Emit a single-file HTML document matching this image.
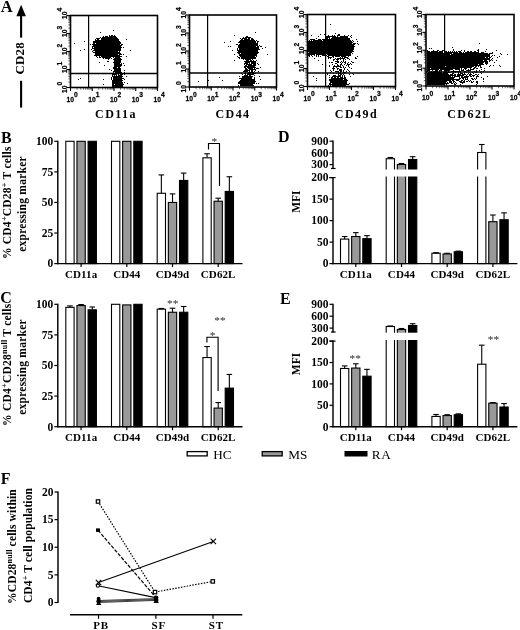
<!DOCTYPE html>
<html><head><meta charset="utf-8"><title>Figure</title>
<style>
html,body{margin:0;padding:0;background:#fff}
svg{display:block}
.sb{font-family:"Liberation Serif","Times New Roman",serif;font-weight:bold}
.sr{font-family:"Liberation Serif","Times New Roman",serif;font-weight:normal}
.ss{font-family:"Liberation Sans",Arial,sans-serif;font-weight:bold}
</style></head><body>
<svg width="520" height="630" viewBox="0 0 520 630">
<rect width="520" height="630" fill="#fff"/>
<rect x="70.5" y="15.5" width="87.0" height="72.0" fill="none" stroke="#000" stroke-width="1.6"/>
<line x1="88.6" y1="15.5" x2="88.6" y2="87.5" stroke="#000" stroke-width="1.2" />
<line x1="70.5" y1="73.5" x2="157.5" y2="73.5" stroke="#000" stroke-width="1.5" />
<line x1="77.05" y1="87.5" x2="77.05" y2="89.7" stroke="#000" stroke-width="0.6" />
<line x1="68.3" y1="82.08" x2="70.5" y2="82.08" stroke="#000" stroke-width="0.6" />
<line x1="80.88" y1="87.5" x2="80.88" y2="89.7" stroke="#000" stroke-width="0.6" />
<line x1="68.3" y1="78.91" x2="70.5" y2="78.91" stroke="#000" stroke-width="0.6" />
<line x1="83.59" y1="87.5" x2="83.59" y2="89.7" stroke="#000" stroke-width="0.6" />
<line x1="68.3" y1="76.66" x2="70.5" y2="76.66" stroke="#000" stroke-width="0.6" />
<line x1="85.70" y1="87.5" x2="85.70" y2="89.7" stroke="#000" stroke-width="0.6" />
<line x1="68.3" y1="74.92" x2="70.5" y2="74.92" stroke="#000" stroke-width="0.6" />
<line x1="87.42" y1="87.5" x2="87.42" y2="89.7" stroke="#000" stroke-width="0.6" />
<line x1="68.3" y1="73.49" x2="70.5" y2="73.49" stroke="#000" stroke-width="0.6" />
<line x1="88.88" y1="87.5" x2="88.88" y2="89.7" stroke="#000" stroke-width="0.6" />
<line x1="68.3" y1="72.29" x2="70.5" y2="72.29" stroke="#000" stroke-width="0.6" />
<line x1="90.14" y1="87.5" x2="90.14" y2="89.7" stroke="#000" stroke-width="0.6" />
<line x1="68.3" y1="71.24" x2="70.5" y2="71.24" stroke="#000" stroke-width="0.6" />
<line x1="91.25" y1="87.5" x2="91.25" y2="89.7" stroke="#000" stroke-width="0.6" />
<line x1="68.3" y1="70.32" x2="70.5" y2="70.32" stroke="#000" stroke-width="0.6" />
<line x1="98.80" y1="87.5" x2="98.80" y2="89.7" stroke="#000" stroke-width="0.6" />
<line x1="68.3" y1="64.08" x2="70.5" y2="64.08" stroke="#000" stroke-width="0.6" />
<line x1="102.63" y1="87.5" x2="102.63" y2="89.7" stroke="#000" stroke-width="0.6" />
<line x1="68.3" y1="60.91" x2="70.5" y2="60.91" stroke="#000" stroke-width="0.6" />
<line x1="105.34" y1="87.5" x2="105.34" y2="89.7" stroke="#000" stroke-width="0.6" />
<line x1="68.3" y1="58.66" x2="70.5" y2="58.66" stroke="#000" stroke-width="0.6" />
<line x1="107.45" y1="87.5" x2="107.45" y2="89.7" stroke="#000" stroke-width="0.6" />
<line x1="68.3" y1="56.92" x2="70.5" y2="56.92" stroke="#000" stroke-width="0.6" />
<line x1="109.17" y1="87.5" x2="109.17" y2="89.7" stroke="#000" stroke-width="0.6" />
<line x1="68.3" y1="55.49" x2="70.5" y2="55.49" stroke="#000" stroke-width="0.6" />
<line x1="110.63" y1="87.5" x2="110.63" y2="89.7" stroke="#000" stroke-width="0.6" />
<line x1="68.3" y1="54.29" x2="70.5" y2="54.29" stroke="#000" stroke-width="0.6" />
<line x1="111.89" y1="87.5" x2="111.89" y2="89.7" stroke="#000" stroke-width="0.6" />
<line x1="68.3" y1="53.24" x2="70.5" y2="53.24" stroke="#000" stroke-width="0.6" />
<line x1="113.00" y1="87.5" x2="113.00" y2="89.7" stroke="#000" stroke-width="0.6" />
<line x1="68.3" y1="52.32" x2="70.5" y2="52.32" stroke="#000" stroke-width="0.6" />
<line x1="120.55" y1="87.5" x2="120.55" y2="89.7" stroke="#000" stroke-width="0.6" />
<line x1="68.3" y1="46.08" x2="70.5" y2="46.08" stroke="#000" stroke-width="0.6" />
<line x1="124.38" y1="87.5" x2="124.38" y2="89.7" stroke="#000" stroke-width="0.6" />
<line x1="68.3" y1="42.91" x2="70.5" y2="42.91" stroke="#000" stroke-width="0.6" />
<line x1="127.09" y1="87.5" x2="127.09" y2="89.7" stroke="#000" stroke-width="0.6" />
<line x1="68.3" y1="40.66" x2="70.5" y2="40.66" stroke="#000" stroke-width="0.6" />
<line x1="129.20" y1="87.5" x2="129.20" y2="89.7" stroke="#000" stroke-width="0.6" />
<line x1="68.3" y1="38.92" x2="70.5" y2="38.92" stroke="#000" stroke-width="0.6" />
<line x1="130.92" y1="87.5" x2="130.92" y2="89.7" stroke="#000" stroke-width="0.6" />
<line x1="68.3" y1="37.49" x2="70.5" y2="37.49" stroke="#000" stroke-width="0.6" />
<line x1="132.38" y1="87.5" x2="132.38" y2="89.7" stroke="#000" stroke-width="0.6" />
<line x1="68.3" y1="36.29" x2="70.5" y2="36.29" stroke="#000" stroke-width="0.6" />
<line x1="133.64" y1="87.5" x2="133.64" y2="89.7" stroke="#000" stroke-width="0.6" />
<line x1="68.3" y1="35.24" x2="70.5" y2="35.24" stroke="#000" stroke-width="0.6" />
<line x1="134.75" y1="87.5" x2="134.75" y2="89.7" stroke="#000" stroke-width="0.6" />
<line x1="68.3" y1="34.32" x2="70.5" y2="34.32" stroke="#000" stroke-width="0.6" />
<line x1="142.30" y1="87.5" x2="142.30" y2="89.7" stroke="#000" stroke-width="0.6" />
<line x1="68.3" y1="28.08" x2="70.5" y2="28.08" stroke="#000" stroke-width="0.6" />
<line x1="146.13" y1="87.5" x2="146.13" y2="89.7" stroke="#000" stroke-width="0.6" />
<line x1="68.3" y1="24.91" x2="70.5" y2="24.91" stroke="#000" stroke-width="0.6" />
<line x1="148.84" y1="87.5" x2="148.84" y2="89.7" stroke="#000" stroke-width="0.6" />
<line x1="68.3" y1="22.66" x2="70.5" y2="22.66" stroke="#000" stroke-width="0.6" />
<line x1="150.95" y1="87.5" x2="150.95" y2="89.7" stroke="#000" stroke-width="0.6" />
<line x1="68.3" y1="20.92" x2="70.5" y2="20.92" stroke="#000" stroke-width="0.6" />
<line x1="152.67" y1="87.5" x2="152.67" y2="89.7" stroke="#000" stroke-width="0.6" />
<line x1="68.3" y1="19.49" x2="70.5" y2="19.49" stroke="#000" stroke-width="0.6" />
<line x1="154.13" y1="87.5" x2="154.13" y2="89.7" stroke="#000" stroke-width="0.6" />
<line x1="68.3" y1="18.29" x2="70.5" y2="18.29" stroke="#000" stroke-width="0.6" />
<line x1="155.39" y1="87.5" x2="155.39" y2="89.7" stroke="#000" stroke-width="0.6" />
<line x1="68.3" y1="17.24" x2="70.5" y2="17.24" stroke="#000" stroke-width="0.6" />
<line x1="156.50" y1="87.5" x2="156.50" y2="89.7" stroke="#000" stroke-width="0.6" />
<line x1="68.3" y1="16.32" x2="70.5" y2="16.32" stroke="#000" stroke-width="0.6" />
<line x1="70.5" y1="87.5" x2="70.5" y2="91.1" stroke="#000" stroke-width="1.1" />
<line x1="66.9" y1="87.5" x2="70.5" y2="87.5" stroke="#000" stroke-width="1.1" />
<text transform="translate(66.5,101.5) scale(0.84,1)" class="ss" font-size="8" stroke="#000" stroke-width="0.25">10<tspan dy="-4.5">0</tspan></text>
<text transform="translate(66.9,92.9) rotate(-90) scale(0.84,1)" class="ss" font-size="8" stroke="#000" stroke-width="0.25">10<tspan dy="-4.5">0</tspan></text>
<line x1="92.25" y1="87.5" x2="92.25" y2="91.1" stroke="#000" stroke-width="1.1" />
<line x1="66.9" y1="69.5" x2="70.5" y2="69.5" stroke="#000" stroke-width="1.1" />
<text transform="translate(88.2,101.5) scale(0.84,1)" class="ss" font-size="8" stroke="#000" stroke-width="0.25">10<tspan dy="-4.5">1</tspan></text>
<text transform="translate(66.9,72.9) rotate(-90) scale(0.84,1)" class="ss" font-size="8" stroke="#000" stroke-width="0.25">10<tspan dy="-4.5">1</tspan></text>
<line x1="114.0" y1="87.5" x2="114.0" y2="91.1" stroke="#000" stroke-width="1.1" />
<line x1="66.9" y1="51.5" x2="70.5" y2="51.5" stroke="#000" stroke-width="1.1" />
<text transform="translate(110.0,101.5) scale(0.84,1)" class="ss" font-size="8" stroke="#000" stroke-width="0.25">10<tspan dy="-4.5">2</tspan></text>
<text transform="translate(66.9,54.9) rotate(-90) scale(0.84,1)" class="ss" font-size="8" stroke="#000" stroke-width="0.25">10<tspan dy="-4.5">2</tspan></text>
<line x1="135.75" y1="87.5" x2="135.75" y2="91.1" stroke="#000" stroke-width="1.1" />
<line x1="66.9" y1="33.5" x2="70.5" y2="33.5" stroke="#000" stroke-width="1.1" />
<text transform="translate(131.8,101.5) scale(0.84,1)" class="ss" font-size="8" stroke="#000" stroke-width="0.25">10<tspan dy="-4.5">3</tspan></text>
<text transform="translate(66.9,36.9) rotate(-90) scale(0.84,1)" class="ss" font-size="8" stroke="#000" stroke-width="0.25">10<tspan dy="-4.5">3</tspan></text>
<line x1="157.5" y1="87.5" x2="157.5" y2="91.1" stroke="#000" stroke-width="1.1" />
<line x1="66.9" y1="15.5" x2="70.5" y2="15.5" stroke="#000" stroke-width="1.1" />
<text transform="translate(153.5,101.5) scale(0.84,1)" class="ss" font-size="8" stroke="#000" stroke-width="0.25">10<tspan dy="-4.5">4</tspan></text>
<text transform="translate(66.9,18.9) rotate(-90) scale(0.84,1)" class="ss" font-size="8" stroke="#000" stroke-width="0.25">10<tspan dy="-4.5">4</tspan></text>
<rect x="189.5" y="15" width="87.0" height="72" fill="none" stroke="#000" stroke-width="1.6"/>
<line x1="207.6" y1="15" x2="207.6" y2="87" stroke="#000" stroke-width="1.2" />
<line x1="189.5" y1="73" x2="276.5" y2="73" stroke="#000" stroke-width="1.5" />
<line x1="196.05" y1="87" x2="196.05" y2="89.2" stroke="#000" stroke-width="0.6" />
<line x1="187.3" y1="81.58" x2="189.5" y2="81.58" stroke="#000" stroke-width="0.6" />
<line x1="199.88" y1="87" x2="199.88" y2="89.2" stroke="#000" stroke-width="0.6" />
<line x1="187.3" y1="78.41" x2="189.5" y2="78.41" stroke="#000" stroke-width="0.6" />
<line x1="202.59" y1="87" x2="202.59" y2="89.2" stroke="#000" stroke-width="0.6" />
<line x1="187.3" y1="76.16" x2="189.5" y2="76.16" stroke="#000" stroke-width="0.6" />
<line x1="204.70" y1="87" x2="204.70" y2="89.2" stroke="#000" stroke-width="0.6" />
<line x1="187.3" y1="74.42" x2="189.5" y2="74.42" stroke="#000" stroke-width="0.6" />
<line x1="206.42" y1="87" x2="206.42" y2="89.2" stroke="#000" stroke-width="0.6" />
<line x1="187.3" y1="72.99" x2="189.5" y2="72.99" stroke="#000" stroke-width="0.6" />
<line x1="207.88" y1="87" x2="207.88" y2="89.2" stroke="#000" stroke-width="0.6" />
<line x1="187.3" y1="71.79" x2="189.5" y2="71.79" stroke="#000" stroke-width="0.6" />
<line x1="209.14" y1="87" x2="209.14" y2="89.2" stroke="#000" stroke-width="0.6" />
<line x1="187.3" y1="70.74" x2="189.5" y2="70.74" stroke="#000" stroke-width="0.6" />
<line x1="210.25" y1="87" x2="210.25" y2="89.2" stroke="#000" stroke-width="0.6" />
<line x1="187.3" y1="69.82" x2="189.5" y2="69.82" stroke="#000" stroke-width="0.6" />
<line x1="217.80" y1="87" x2="217.80" y2="89.2" stroke="#000" stroke-width="0.6" />
<line x1="187.3" y1="63.58" x2="189.5" y2="63.58" stroke="#000" stroke-width="0.6" />
<line x1="221.63" y1="87" x2="221.63" y2="89.2" stroke="#000" stroke-width="0.6" />
<line x1="187.3" y1="60.41" x2="189.5" y2="60.41" stroke="#000" stroke-width="0.6" />
<line x1="224.34" y1="87" x2="224.34" y2="89.2" stroke="#000" stroke-width="0.6" />
<line x1="187.3" y1="58.16" x2="189.5" y2="58.16" stroke="#000" stroke-width="0.6" />
<line x1="226.45" y1="87" x2="226.45" y2="89.2" stroke="#000" stroke-width="0.6" />
<line x1="187.3" y1="56.42" x2="189.5" y2="56.42" stroke="#000" stroke-width="0.6" />
<line x1="228.17" y1="87" x2="228.17" y2="89.2" stroke="#000" stroke-width="0.6" />
<line x1="187.3" y1="54.99" x2="189.5" y2="54.99" stroke="#000" stroke-width="0.6" />
<line x1="229.63" y1="87" x2="229.63" y2="89.2" stroke="#000" stroke-width="0.6" />
<line x1="187.3" y1="53.79" x2="189.5" y2="53.79" stroke="#000" stroke-width="0.6" />
<line x1="230.89" y1="87" x2="230.89" y2="89.2" stroke="#000" stroke-width="0.6" />
<line x1="187.3" y1="52.74" x2="189.5" y2="52.74" stroke="#000" stroke-width="0.6" />
<line x1="232.00" y1="87" x2="232.00" y2="89.2" stroke="#000" stroke-width="0.6" />
<line x1="187.3" y1="51.82" x2="189.5" y2="51.82" stroke="#000" stroke-width="0.6" />
<line x1="239.55" y1="87" x2="239.55" y2="89.2" stroke="#000" stroke-width="0.6" />
<line x1="187.3" y1="45.58" x2="189.5" y2="45.58" stroke="#000" stroke-width="0.6" />
<line x1="243.38" y1="87" x2="243.38" y2="89.2" stroke="#000" stroke-width="0.6" />
<line x1="187.3" y1="42.41" x2="189.5" y2="42.41" stroke="#000" stroke-width="0.6" />
<line x1="246.09" y1="87" x2="246.09" y2="89.2" stroke="#000" stroke-width="0.6" />
<line x1="187.3" y1="40.16" x2="189.5" y2="40.16" stroke="#000" stroke-width="0.6" />
<line x1="248.20" y1="87" x2="248.20" y2="89.2" stroke="#000" stroke-width="0.6" />
<line x1="187.3" y1="38.42" x2="189.5" y2="38.42" stroke="#000" stroke-width="0.6" />
<line x1="249.92" y1="87" x2="249.92" y2="89.2" stroke="#000" stroke-width="0.6" />
<line x1="187.3" y1="36.99" x2="189.5" y2="36.99" stroke="#000" stroke-width="0.6" />
<line x1="251.38" y1="87" x2="251.38" y2="89.2" stroke="#000" stroke-width="0.6" />
<line x1="187.3" y1="35.79" x2="189.5" y2="35.79" stroke="#000" stroke-width="0.6" />
<line x1="252.64" y1="87" x2="252.64" y2="89.2" stroke="#000" stroke-width="0.6" />
<line x1="187.3" y1="34.74" x2="189.5" y2="34.74" stroke="#000" stroke-width="0.6" />
<line x1="253.75" y1="87" x2="253.75" y2="89.2" stroke="#000" stroke-width="0.6" />
<line x1="187.3" y1="33.82" x2="189.5" y2="33.82" stroke="#000" stroke-width="0.6" />
<line x1="261.30" y1="87" x2="261.30" y2="89.2" stroke="#000" stroke-width="0.6" />
<line x1="187.3" y1="27.58" x2="189.5" y2="27.58" stroke="#000" stroke-width="0.6" />
<line x1="265.13" y1="87" x2="265.13" y2="89.2" stroke="#000" stroke-width="0.6" />
<line x1="187.3" y1="24.41" x2="189.5" y2="24.41" stroke="#000" stroke-width="0.6" />
<line x1="267.84" y1="87" x2="267.84" y2="89.2" stroke="#000" stroke-width="0.6" />
<line x1="187.3" y1="22.16" x2="189.5" y2="22.16" stroke="#000" stroke-width="0.6" />
<line x1="269.95" y1="87" x2="269.95" y2="89.2" stroke="#000" stroke-width="0.6" />
<line x1="187.3" y1="20.42" x2="189.5" y2="20.42" stroke="#000" stroke-width="0.6" />
<line x1="271.67" y1="87" x2="271.67" y2="89.2" stroke="#000" stroke-width="0.6" />
<line x1="187.3" y1="18.99" x2="189.5" y2="18.99" stroke="#000" stroke-width="0.6" />
<line x1="273.13" y1="87" x2="273.13" y2="89.2" stroke="#000" stroke-width="0.6" />
<line x1="187.3" y1="17.79" x2="189.5" y2="17.79" stroke="#000" stroke-width="0.6" />
<line x1="274.39" y1="87" x2="274.39" y2="89.2" stroke="#000" stroke-width="0.6" />
<line x1="187.3" y1="16.74" x2="189.5" y2="16.74" stroke="#000" stroke-width="0.6" />
<line x1="275.50" y1="87" x2="275.50" y2="89.2" stroke="#000" stroke-width="0.6" />
<line x1="187.3" y1="15.82" x2="189.5" y2="15.82" stroke="#000" stroke-width="0.6" />
<line x1="189.5" y1="87" x2="189.5" y2="90.6" stroke="#000" stroke-width="1.1" />
<line x1="185.9" y1="87.0" x2="189.5" y2="87.0" stroke="#000" stroke-width="1.1" />
<text transform="translate(185.5,101) scale(0.84,1)" class="ss" font-size="8" stroke="#000" stroke-width="0.25">10<tspan dy="-4.5">0</tspan></text>
<text transform="translate(185.9,92.4) rotate(-90) scale(0.84,1)" class="ss" font-size="8" stroke="#000" stroke-width="0.25">10<tspan dy="-4.5">0</tspan></text>
<line x1="211.25" y1="87" x2="211.25" y2="90.6" stroke="#000" stroke-width="1.1" />
<line x1="185.9" y1="69.0" x2="189.5" y2="69.0" stroke="#000" stroke-width="1.1" />
<text transform="translate(207.2,101) scale(0.84,1)" class="ss" font-size="8" stroke="#000" stroke-width="0.25">10<tspan dy="-4.5">1</tspan></text>
<text transform="translate(185.9,72.4) rotate(-90) scale(0.84,1)" class="ss" font-size="8" stroke="#000" stroke-width="0.25">10<tspan dy="-4.5">1</tspan></text>
<line x1="233.0" y1="87" x2="233.0" y2="90.6" stroke="#000" stroke-width="1.1" />
<line x1="185.9" y1="51.0" x2="189.5" y2="51.0" stroke="#000" stroke-width="1.1" />
<text transform="translate(229.0,101) scale(0.84,1)" class="ss" font-size="8" stroke="#000" stroke-width="0.25">10<tspan dy="-4.5">2</tspan></text>
<text transform="translate(185.9,54.4) rotate(-90) scale(0.84,1)" class="ss" font-size="8" stroke="#000" stroke-width="0.25">10<tspan dy="-4.5">2</tspan></text>
<line x1="254.75" y1="87" x2="254.75" y2="90.6" stroke="#000" stroke-width="1.1" />
<line x1="185.9" y1="33.0" x2="189.5" y2="33.0" stroke="#000" stroke-width="1.1" />
<text transform="translate(250.8,101) scale(0.84,1)" class="ss" font-size="8" stroke="#000" stroke-width="0.25">10<tspan dy="-4.5">3</tspan></text>
<text transform="translate(185.9,36.4) rotate(-90) scale(0.84,1)" class="ss" font-size="8" stroke="#000" stroke-width="0.25">10<tspan dy="-4.5">3</tspan></text>
<line x1="276.5" y1="87" x2="276.5" y2="90.6" stroke="#000" stroke-width="1.1" />
<line x1="185.9" y1="15.0" x2="189.5" y2="15.0" stroke="#000" stroke-width="1.1" />
<text transform="translate(272.5,101) scale(0.84,1)" class="ss" font-size="8" stroke="#000" stroke-width="0.25">10<tspan dy="-4.5">4</tspan></text>
<text transform="translate(185.9,18.4) rotate(-90) scale(0.84,1)" class="ss" font-size="8" stroke="#000" stroke-width="0.25">10<tspan dy="-4.5">4</tspan></text>
<rect x="307.5" y="14.5" width="88.0" height="72.0" fill="none" stroke="#000" stroke-width="1.6"/>
<line x1="325.6" y1="14.5" x2="325.6" y2="86.5" stroke="#000" stroke-width="1.2" />
<line x1="307.5" y1="73" x2="395.5" y2="73" stroke="#000" stroke-width="1.5" />
<line x1="314.12" y1="86.5" x2="314.12" y2="88.7" stroke="#000" stroke-width="0.6" />
<line x1="305.3" y1="81.08" x2="307.5" y2="81.08" stroke="#000" stroke-width="0.6" />
<line x1="318.00" y1="86.5" x2="318.00" y2="88.7" stroke="#000" stroke-width="0.6" />
<line x1="305.3" y1="77.91" x2="307.5" y2="77.91" stroke="#000" stroke-width="0.6" />
<line x1="320.75" y1="86.5" x2="320.75" y2="88.7" stroke="#000" stroke-width="0.6" />
<line x1="305.3" y1="75.66" x2="307.5" y2="75.66" stroke="#000" stroke-width="0.6" />
<line x1="322.88" y1="86.5" x2="322.88" y2="88.7" stroke="#000" stroke-width="0.6" />
<line x1="305.3" y1="73.92" x2="307.5" y2="73.92" stroke="#000" stroke-width="0.6" />
<line x1="324.62" y1="86.5" x2="324.62" y2="88.7" stroke="#000" stroke-width="0.6" />
<line x1="305.3" y1="72.49" x2="307.5" y2="72.49" stroke="#000" stroke-width="0.6" />
<line x1="326.09" y1="86.5" x2="326.09" y2="88.7" stroke="#000" stroke-width="0.6" />
<line x1="305.3" y1="71.29" x2="307.5" y2="71.29" stroke="#000" stroke-width="0.6" />
<line x1="327.37" y1="86.5" x2="327.37" y2="88.7" stroke="#000" stroke-width="0.6" />
<line x1="305.3" y1="70.24" x2="307.5" y2="70.24" stroke="#000" stroke-width="0.6" />
<line x1="328.49" y1="86.5" x2="328.49" y2="88.7" stroke="#000" stroke-width="0.6" />
<line x1="305.3" y1="69.32" x2="307.5" y2="69.32" stroke="#000" stroke-width="0.6" />
<line x1="336.12" y1="86.5" x2="336.12" y2="88.7" stroke="#000" stroke-width="0.6" />
<line x1="305.3" y1="63.08" x2="307.5" y2="63.08" stroke="#000" stroke-width="0.6" />
<line x1="340.00" y1="86.5" x2="340.00" y2="88.7" stroke="#000" stroke-width="0.6" />
<line x1="305.3" y1="59.91" x2="307.5" y2="59.91" stroke="#000" stroke-width="0.6" />
<line x1="342.75" y1="86.5" x2="342.75" y2="88.7" stroke="#000" stroke-width="0.6" />
<line x1="305.3" y1="57.66" x2="307.5" y2="57.66" stroke="#000" stroke-width="0.6" />
<line x1="344.88" y1="86.5" x2="344.88" y2="88.7" stroke="#000" stroke-width="0.6" />
<line x1="305.3" y1="55.92" x2="307.5" y2="55.92" stroke="#000" stroke-width="0.6" />
<line x1="346.62" y1="86.5" x2="346.62" y2="88.7" stroke="#000" stroke-width="0.6" />
<line x1="305.3" y1="54.49" x2="307.5" y2="54.49" stroke="#000" stroke-width="0.6" />
<line x1="348.09" y1="86.5" x2="348.09" y2="88.7" stroke="#000" stroke-width="0.6" />
<line x1="305.3" y1="53.29" x2="307.5" y2="53.29" stroke="#000" stroke-width="0.6" />
<line x1="349.37" y1="86.5" x2="349.37" y2="88.7" stroke="#000" stroke-width="0.6" />
<line x1="305.3" y1="52.24" x2="307.5" y2="52.24" stroke="#000" stroke-width="0.6" />
<line x1="350.49" y1="86.5" x2="350.49" y2="88.7" stroke="#000" stroke-width="0.6" />
<line x1="305.3" y1="51.32" x2="307.5" y2="51.32" stroke="#000" stroke-width="0.6" />
<line x1="358.12" y1="86.5" x2="358.12" y2="88.7" stroke="#000" stroke-width="0.6" />
<line x1="305.3" y1="45.08" x2="307.5" y2="45.08" stroke="#000" stroke-width="0.6" />
<line x1="362.00" y1="86.5" x2="362.00" y2="88.7" stroke="#000" stroke-width="0.6" />
<line x1="305.3" y1="41.91" x2="307.5" y2="41.91" stroke="#000" stroke-width="0.6" />
<line x1="364.75" y1="86.5" x2="364.75" y2="88.7" stroke="#000" stroke-width="0.6" />
<line x1="305.3" y1="39.66" x2="307.5" y2="39.66" stroke="#000" stroke-width="0.6" />
<line x1="366.88" y1="86.5" x2="366.88" y2="88.7" stroke="#000" stroke-width="0.6" />
<line x1="305.3" y1="37.92" x2="307.5" y2="37.92" stroke="#000" stroke-width="0.6" />
<line x1="368.62" y1="86.5" x2="368.62" y2="88.7" stroke="#000" stroke-width="0.6" />
<line x1="305.3" y1="36.49" x2="307.5" y2="36.49" stroke="#000" stroke-width="0.6" />
<line x1="370.09" y1="86.5" x2="370.09" y2="88.7" stroke="#000" stroke-width="0.6" />
<line x1="305.3" y1="35.29" x2="307.5" y2="35.29" stroke="#000" stroke-width="0.6" />
<line x1="371.37" y1="86.5" x2="371.37" y2="88.7" stroke="#000" stroke-width="0.6" />
<line x1="305.3" y1="34.24" x2="307.5" y2="34.24" stroke="#000" stroke-width="0.6" />
<line x1="372.49" y1="86.5" x2="372.49" y2="88.7" stroke="#000" stroke-width="0.6" />
<line x1="305.3" y1="33.32" x2="307.5" y2="33.32" stroke="#000" stroke-width="0.6" />
<line x1="380.12" y1="86.5" x2="380.12" y2="88.7" stroke="#000" stroke-width="0.6" />
<line x1="305.3" y1="27.08" x2="307.5" y2="27.08" stroke="#000" stroke-width="0.6" />
<line x1="384.00" y1="86.5" x2="384.00" y2="88.7" stroke="#000" stroke-width="0.6" />
<line x1="305.3" y1="23.91" x2="307.5" y2="23.91" stroke="#000" stroke-width="0.6" />
<line x1="386.75" y1="86.5" x2="386.75" y2="88.7" stroke="#000" stroke-width="0.6" />
<line x1="305.3" y1="21.66" x2="307.5" y2="21.66" stroke="#000" stroke-width="0.6" />
<line x1="388.88" y1="86.5" x2="388.88" y2="88.7" stroke="#000" stroke-width="0.6" />
<line x1="305.3" y1="19.92" x2="307.5" y2="19.92" stroke="#000" stroke-width="0.6" />
<line x1="390.62" y1="86.5" x2="390.62" y2="88.7" stroke="#000" stroke-width="0.6" />
<line x1="305.3" y1="18.49" x2="307.5" y2="18.49" stroke="#000" stroke-width="0.6" />
<line x1="392.09" y1="86.5" x2="392.09" y2="88.7" stroke="#000" stroke-width="0.6" />
<line x1="305.3" y1="17.29" x2="307.5" y2="17.29" stroke="#000" stroke-width="0.6" />
<line x1="393.37" y1="86.5" x2="393.37" y2="88.7" stroke="#000" stroke-width="0.6" />
<line x1="305.3" y1="16.24" x2="307.5" y2="16.24" stroke="#000" stroke-width="0.6" />
<line x1="394.49" y1="86.5" x2="394.49" y2="88.7" stroke="#000" stroke-width="0.6" />
<line x1="305.3" y1="15.32" x2="307.5" y2="15.32" stroke="#000" stroke-width="0.6" />
<line x1="307.5" y1="86.5" x2="307.5" y2="90.1" stroke="#000" stroke-width="1.1" />
<line x1="303.9" y1="86.5" x2="307.5" y2="86.5" stroke="#000" stroke-width="1.1" />
<text transform="translate(303.5,100.5) scale(0.84,1)" class="ss" font-size="8" stroke="#000" stroke-width="0.25">10<tspan dy="-4.5">0</tspan></text>
<text transform="translate(303.9,91.9) rotate(-90) scale(0.84,1)" class="ss" font-size="8" stroke="#000" stroke-width="0.25">10<tspan dy="-4.5">0</tspan></text>
<line x1="329.5" y1="86.5" x2="329.5" y2="90.1" stroke="#000" stroke-width="1.1" />
<line x1="303.9" y1="68.5" x2="307.5" y2="68.5" stroke="#000" stroke-width="1.1" />
<text transform="translate(325.5,100.5) scale(0.84,1)" class="ss" font-size="8" stroke="#000" stroke-width="0.25">10<tspan dy="-4.5">1</tspan></text>
<text transform="translate(303.9,71.9) rotate(-90) scale(0.84,1)" class="ss" font-size="8" stroke="#000" stroke-width="0.25">10<tspan dy="-4.5">1</tspan></text>
<line x1="351.5" y1="86.5" x2="351.5" y2="90.1" stroke="#000" stroke-width="1.1" />
<line x1="303.9" y1="50.5" x2="307.5" y2="50.5" stroke="#000" stroke-width="1.1" />
<text transform="translate(347.5,100.5) scale(0.84,1)" class="ss" font-size="8" stroke="#000" stroke-width="0.25">10<tspan dy="-4.5">2</tspan></text>
<text transform="translate(303.9,53.9) rotate(-90) scale(0.84,1)" class="ss" font-size="8" stroke="#000" stroke-width="0.25">10<tspan dy="-4.5">2</tspan></text>
<line x1="373.5" y1="86.5" x2="373.5" y2="90.1" stroke="#000" stroke-width="1.1" />
<line x1="303.9" y1="32.5" x2="307.5" y2="32.5" stroke="#000" stroke-width="1.1" />
<text transform="translate(369.5,100.5) scale(0.84,1)" class="ss" font-size="8" stroke="#000" stroke-width="0.25">10<tspan dy="-4.5">3</tspan></text>
<text transform="translate(303.9,35.9) rotate(-90) scale(0.84,1)" class="ss" font-size="8" stroke="#000" stroke-width="0.25">10<tspan dy="-4.5">3</tspan></text>
<line x1="395.5" y1="86.5" x2="395.5" y2="90.1" stroke="#000" stroke-width="1.1" />
<line x1="303.9" y1="14.5" x2="307.5" y2="14.5" stroke="#000" stroke-width="1.1" />
<text transform="translate(391.5,100.5) scale(0.84,1)" class="ss" font-size="8" stroke="#000" stroke-width="0.25">10<tspan dy="-4.5">4</tspan></text>
<text transform="translate(303.9,17.9) rotate(-90) scale(0.84,1)" class="ss" font-size="8" stroke="#000" stroke-width="0.25">10<tspan dy="-4.5">4</tspan></text>
<rect x="426" y="14.5" width="88" height="71.5" fill="none" stroke="#000" stroke-width="1.6"/>
<line x1="444.6" y1="14.5" x2="444.6" y2="86" stroke="#000" stroke-width="1.2" />
<line x1="426" y1="72" x2="514" y2="72" stroke="#000" stroke-width="1.5" />
<line x1="432.62" y1="86" x2="432.62" y2="88.2" stroke="#000" stroke-width="0.6" />
<line x1="423.8" y1="80.62" x2="426" y2="80.62" stroke="#000" stroke-width="0.6" />
<line x1="436.50" y1="86" x2="436.50" y2="88.2" stroke="#000" stroke-width="0.6" />
<line x1="423.8" y1="77.47" x2="426" y2="77.47" stroke="#000" stroke-width="0.6" />
<line x1="439.25" y1="86" x2="439.25" y2="88.2" stroke="#000" stroke-width="0.6" />
<line x1="423.8" y1="75.24" x2="426" y2="75.24" stroke="#000" stroke-width="0.6" />
<line x1="441.38" y1="86" x2="441.38" y2="88.2" stroke="#000" stroke-width="0.6" />
<line x1="423.8" y1="73.51" x2="426" y2="73.51" stroke="#000" stroke-width="0.6" />
<line x1="443.12" y1="86" x2="443.12" y2="88.2" stroke="#000" stroke-width="0.6" />
<line x1="423.8" y1="72.09" x2="426" y2="72.09" stroke="#000" stroke-width="0.6" />
<line x1="444.59" y1="86" x2="444.59" y2="88.2" stroke="#000" stroke-width="0.6" />
<line x1="423.8" y1="70.89" x2="426" y2="70.89" stroke="#000" stroke-width="0.6" />
<line x1="445.87" y1="86" x2="445.87" y2="88.2" stroke="#000" stroke-width="0.6" />
<line x1="423.8" y1="69.86" x2="426" y2="69.86" stroke="#000" stroke-width="0.6" />
<line x1="446.99" y1="86" x2="446.99" y2="88.2" stroke="#000" stroke-width="0.6" />
<line x1="423.8" y1="68.94" x2="426" y2="68.94" stroke="#000" stroke-width="0.6" />
<line x1="454.62" y1="86" x2="454.62" y2="88.2" stroke="#000" stroke-width="0.6" />
<line x1="423.8" y1="62.74" x2="426" y2="62.74" stroke="#000" stroke-width="0.6" />
<line x1="458.50" y1="86" x2="458.50" y2="88.2" stroke="#000" stroke-width="0.6" />
<line x1="423.8" y1="59.60" x2="426" y2="59.60" stroke="#000" stroke-width="0.6" />
<line x1="461.25" y1="86" x2="461.25" y2="88.2" stroke="#000" stroke-width="0.6" />
<line x1="423.8" y1="57.36" x2="426" y2="57.36" stroke="#000" stroke-width="0.6" />
<line x1="463.38" y1="86" x2="463.38" y2="88.2" stroke="#000" stroke-width="0.6" />
<line x1="423.8" y1="55.63" x2="426" y2="55.63" stroke="#000" stroke-width="0.6" />
<line x1="465.12" y1="86" x2="465.12" y2="88.2" stroke="#000" stroke-width="0.6" />
<line x1="423.8" y1="54.22" x2="426" y2="54.22" stroke="#000" stroke-width="0.6" />
<line x1="466.59" y1="86" x2="466.59" y2="88.2" stroke="#000" stroke-width="0.6" />
<line x1="423.8" y1="53.02" x2="426" y2="53.02" stroke="#000" stroke-width="0.6" />
<line x1="467.87" y1="86" x2="467.87" y2="88.2" stroke="#000" stroke-width="0.6" />
<line x1="423.8" y1="51.98" x2="426" y2="51.98" stroke="#000" stroke-width="0.6" />
<line x1="468.99" y1="86" x2="468.99" y2="88.2" stroke="#000" stroke-width="0.6" />
<line x1="423.8" y1="51.07" x2="426" y2="51.07" stroke="#000" stroke-width="0.6" />
<line x1="476.62" y1="86" x2="476.62" y2="88.2" stroke="#000" stroke-width="0.6" />
<line x1="423.8" y1="44.87" x2="426" y2="44.87" stroke="#000" stroke-width="0.6" />
<line x1="480.50" y1="86" x2="480.50" y2="88.2" stroke="#000" stroke-width="0.6" />
<line x1="423.8" y1="41.72" x2="426" y2="41.72" stroke="#000" stroke-width="0.6" />
<line x1="483.25" y1="86" x2="483.25" y2="88.2" stroke="#000" stroke-width="0.6" />
<line x1="423.8" y1="39.49" x2="426" y2="39.49" stroke="#000" stroke-width="0.6" />
<line x1="485.38" y1="86" x2="485.38" y2="88.2" stroke="#000" stroke-width="0.6" />
<line x1="423.8" y1="37.76" x2="426" y2="37.76" stroke="#000" stroke-width="0.6" />
<line x1="487.12" y1="86" x2="487.12" y2="88.2" stroke="#000" stroke-width="0.6" />
<line x1="423.8" y1="36.34" x2="426" y2="36.34" stroke="#000" stroke-width="0.6" />
<line x1="488.59" y1="86" x2="488.59" y2="88.2" stroke="#000" stroke-width="0.6" />
<line x1="423.8" y1="35.14" x2="426" y2="35.14" stroke="#000" stroke-width="0.6" />
<line x1="489.87" y1="86" x2="489.87" y2="88.2" stroke="#000" stroke-width="0.6" />
<line x1="423.8" y1="34.11" x2="426" y2="34.11" stroke="#000" stroke-width="0.6" />
<line x1="490.99" y1="86" x2="490.99" y2="88.2" stroke="#000" stroke-width="0.6" />
<line x1="423.8" y1="33.19" x2="426" y2="33.19" stroke="#000" stroke-width="0.6" />
<line x1="498.62" y1="86" x2="498.62" y2="88.2" stroke="#000" stroke-width="0.6" />
<line x1="423.8" y1="26.99" x2="426" y2="26.99" stroke="#000" stroke-width="0.6" />
<line x1="502.50" y1="86" x2="502.50" y2="88.2" stroke="#000" stroke-width="0.6" />
<line x1="423.8" y1="23.85" x2="426" y2="23.85" stroke="#000" stroke-width="0.6" />
<line x1="505.25" y1="86" x2="505.25" y2="88.2" stroke="#000" stroke-width="0.6" />
<line x1="423.8" y1="21.61" x2="426" y2="21.61" stroke="#000" stroke-width="0.6" />
<line x1="507.38" y1="86" x2="507.38" y2="88.2" stroke="#000" stroke-width="0.6" />
<line x1="423.8" y1="19.88" x2="426" y2="19.88" stroke="#000" stroke-width="0.6" />
<line x1="509.12" y1="86" x2="509.12" y2="88.2" stroke="#000" stroke-width="0.6" />
<line x1="423.8" y1="18.47" x2="426" y2="18.47" stroke="#000" stroke-width="0.6" />
<line x1="510.59" y1="86" x2="510.59" y2="88.2" stroke="#000" stroke-width="0.6" />
<line x1="423.8" y1="17.27" x2="426" y2="17.27" stroke="#000" stroke-width="0.6" />
<line x1="511.87" y1="86" x2="511.87" y2="88.2" stroke="#000" stroke-width="0.6" />
<line x1="423.8" y1="16.23" x2="426" y2="16.23" stroke="#000" stroke-width="0.6" />
<line x1="512.99" y1="86" x2="512.99" y2="88.2" stroke="#000" stroke-width="0.6" />
<line x1="423.8" y1="15.32" x2="426" y2="15.32" stroke="#000" stroke-width="0.6" />
<line x1="426.0" y1="86" x2="426.0" y2="89.6" stroke="#000" stroke-width="1.1" />
<line x1="422.4" y1="86.0" x2="426" y2="86.0" stroke="#000" stroke-width="1.1" />
<text transform="translate(422.0,100) scale(0.84,1)" class="ss" font-size="8" stroke="#000" stroke-width="0.25">10<tspan dy="-4.5">0</tspan></text>
<text transform="translate(422.4,91.4) rotate(-90) scale(0.84,1)" class="ss" font-size="8" stroke="#000" stroke-width="0.25">10<tspan dy="-4.5">0</tspan></text>
<line x1="448.0" y1="86" x2="448.0" y2="89.6" stroke="#000" stroke-width="1.1" />
<line x1="422.4" y1="68.125" x2="426" y2="68.125" stroke="#000" stroke-width="1.1" />
<text transform="translate(444.0,100) scale(0.84,1)" class="ss" font-size="8" stroke="#000" stroke-width="0.25">10<tspan dy="-4.5">1</tspan></text>
<text transform="translate(422.4,71.5) rotate(-90) scale(0.84,1)" class="ss" font-size="8" stroke="#000" stroke-width="0.25">10<tspan dy="-4.5">1</tspan></text>
<line x1="470.0" y1="86" x2="470.0" y2="89.6" stroke="#000" stroke-width="1.1" />
<line x1="422.4" y1="50.25" x2="426" y2="50.25" stroke="#000" stroke-width="1.1" />
<text transform="translate(466.0,100) scale(0.84,1)" class="ss" font-size="8" stroke="#000" stroke-width="0.25">10<tspan dy="-4.5">2</tspan></text>
<text transform="translate(422.4,53.6) rotate(-90) scale(0.84,1)" class="ss" font-size="8" stroke="#000" stroke-width="0.25">10<tspan dy="-4.5">2</tspan></text>
<line x1="492.0" y1="86" x2="492.0" y2="89.6" stroke="#000" stroke-width="1.1" />
<line x1="422.4" y1="32.375" x2="426" y2="32.375" stroke="#000" stroke-width="1.1" />
<text transform="translate(488.0,100) scale(0.84,1)" class="ss" font-size="8" stroke="#000" stroke-width="0.25">10<tspan dy="-4.5">3</tspan></text>
<text transform="translate(422.4,35.8) rotate(-90) scale(0.84,1)" class="ss" font-size="8" stroke="#000" stroke-width="0.25">10<tspan dy="-4.5">3</tspan></text>
<line x1="514.0" y1="86" x2="514.0" y2="89.6" stroke="#000" stroke-width="1.1" />
<line x1="422.4" y1="14.5" x2="426" y2="14.5" stroke="#000" stroke-width="1.1" />
<text transform="translate(510.0,100) scale(0.84,1)" class="ss" font-size="8" stroke="#000" stroke-width="0.25">10<tspan dy="-4.5">4</tspan></text>
<text transform="translate(422.4,17.9) rotate(-90) scale(0.84,1)" class="ss" font-size="8" stroke="#000" stroke-width="0.25">10<tspan dy="-4.5">4</tspan></text>
<path d="M109 35.5h1M111 35.5h2M114 35.5h1M103 36.5h1M105 36.5h3M109 36.5h7M100 37.5h1M102 37.5h15M96 38.5h4M101 38.5h17M95 39.5h1M97 39.5h2M101 39.5h18M126 39.5h1M95 40.5h24M84 41.5h1M93 41.5h27M93 42.5h28M93 43.5h2M96 43.5h25M90 44.5h1M92 44.5h28M121 44.5h2M93 45.5h29M92 46.5h29M92 47.5h1M94 47.5h28M123 47.5h1M92 48.5h29M91 49.5h1M94 49.5h27M93 50.5h28M130 50.5h1M92 51.5h1M95 51.5h23M119 51.5h1M93 52.5h27M95 53.5h26M95 54.5h23M119 54.5h3M123 54.5h1M94 55.5h26M96 56.5h1M99 56.5h1M101 56.5h21M97 57.5h1M99 57.5h2M102 57.5h9M113 57.5h1M115 57.5h5M103 58.5h1M105 58.5h5M111 58.5h1M114 58.5h7M108 59.5h1M113 59.5h9M114 60.5h7M107 61.5h2M114 61.5h7M99 62.5h1M113 62.5h8M114 63.5h6M121 63.5h1M123 63.5h1M114 64.5h8M104 65.5h1M114 65.5h8M124 65.5h1M114 66.5h7M113 67.5h4M118 67.5h2M113 68.5h8M109 69.5h1M114 69.5h7M111 70.5h1M114 70.5h7M124 70.5h1M113 71.5h8M113 72.5h1M115 72.5h7M124 72.5h1M114 73.5h7M126 73.5h1M112 74.5h5M118 74.5h1M120 74.5h3M124 74.5h1M112 75.5h1M114 75.5h1M116 75.5h1M118 75.5h4M112 76.5h11M126 76.5h1M111 77.5h1M113 77.5h9M111 78.5h1M113 78.5h11M103 79.5h1M111 79.5h1M113 79.5h9M124 79.5h1M112 80.5h11M112 81.5h10M112 82.5h11M124 82.5h1M112 83.5h11M127 83.5h1M112 84.5h2M115 84.5h9M112 85.5h11M112 86.5h11" stroke="#000" stroke-width="1" fill="none"/>
<path d="M234 35.5h1M246 36.5h2M243 37.5h1M245 37.5h6M240 38.5h1M242 38.5h5M248 38.5h2M251 38.5h2M241 39.5h2M244 39.5h6M251 39.5h3M240 40.5h15M256 40.5h1M230 41.5h1M239 41.5h17M257 41.5h2M238 42.5h18M257 42.5h1M240 43.5h18M237 44.5h1M239 44.5h19M238 45.5h20M259 45.5h1M228 46.5h1M238 46.5h18M257 46.5h2M261 46.5h1M238 47.5h21M265 47.5h1M237 48.5h1M239 48.5h20M262 48.5h1M237 49.5h1M239 49.5h21M237 50.5h21M238 51.5h20M237 52.5h22M238 53.5h2M241 53.5h17M234 54.5h1M239 54.5h18M267 54.5h1M239 55.5h18M237 56.5h1M240 56.5h15M256 56.5h1M238 57.5h2M241 57.5h15M239 58.5h1M241 58.5h15M243 59.5h1M245 59.5h6M252 59.5h1M246 60.5h3M250 60.5h2M253 60.5h1M256 60.5h1M244 61.5h12M245 62.5h5M251 62.5h5M244 63.5h4M249 63.5h1M251 63.5h5M257 63.5h1M244 64.5h1M246 64.5h6M253 64.5h3M258 64.5h1M245 65.5h2M248 65.5h8M244 66.5h11M244 67.5h2M247 67.5h9M260 67.5h1M245 68.5h2M248 68.5h5M254 68.5h1M256 68.5h3M245 69.5h3M249 69.5h7M244 70.5h6M251 70.5h2M255 70.5h1M243 71.5h5M249 71.5h1M251 71.5h2M254 71.5h1M258 71.5h1M245 72.5h1M248 72.5h6M241 73.5h1M244 73.5h2M247 73.5h4M252 73.5h4M242 74.5h1M245 74.5h1M247 74.5h7M244 75.5h4M249 75.5h2M254 75.5h1M239 76.5h1M242 76.5h11M259 76.5h1M242 77.5h10M254 77.5h1M239 78.5h13M254 78.5h1M241 79.5h14M260 79.5h1M240 80.5h15M239 81.5h17M238 82.5h17M238 83.5h17M256 83.5h1M258 83.5h1M240 84.5h13M238 85.5h1M240 85.5h14" stroke="#000" stroke-width="1" fill="none"/>
<path d="M335 33.5h1M320 34.5h1M324 34.5h1M338 34.5h2M311 35.5h1M325 35.5h1M328 35.5h1M332 35.5h1M334 35.5h1M337 35.5h3M344 35.5h1M348 35.5h1M351 35.5h1M318 36.5h1M326 36.5h10M337 36.5h1M340 36.5h8M350 36.5h1M325 37.5h5M332 37.5h16M351 37.5h1M316 38.5h1M326 38.5h2M329 38.5h1M331 38.5h19M310 39.5h5M318 39.5h3M322 39.5h28M356 39.5h1M309 40.5h1M311 40.5h1M313 40.5h9M323 40.5h28M352 40.5h1M308 41.5h44M353 41.5h1M308 42.5h45M308 43.5h44M353 43.5h3M357 43.5h1M308 44.5h47M308 45.5h46M308 46.5h47M308 47.5h46M308 48.5h46M308 49.5h46M308 50.5h45M308 51.5h46M309 52.5h43M308 53.5h43M352 53.5h1M308 54.5h7M316 54.5h10M327 54.5h24M308 55.5h2M311 55.5h1M314 55.5h1M316 55.5h1M318 55.5h1M322 55.5h5M328 55.5h23M309 56.5h1M312 56.5h1M316 56.5h1M318 56.5h1M320 56.5h1M325 56.5h1M327 56.5h2M332 56.5h2M335 56.5h5M341 56.5h5M348 56.5h1M357 56.5h1M328 57.5h4M333 57.5h1M340 57.5h1M342 57.5h1M344 57.5h4M355 57.5h1M314 58.5h1M328 58.5h1M330 58.5h1M335 58.5h1M337 58.5h8M347 58.5h2M355 58.5h2M333 59.5h2M336 59.5h3M340 59.5h1M343 59.5h1M345 59.5h1M349 59.5h1M318 60.5h1M333 60.5h1M337 60.5h1M343 60.5h1M335 61.5h4M341 61.5h1M343 61.5h1M345 61.5h1M351 61.5h1M329 62.5h1M331 62.5h2M337 62.5h2M340 62.5h1M342 62.5h1M344 62.5h2M348 62.5h1M352 62.5h2M335 63.5h2M341 63.5h1M345 63.5h1M347 63.5h1M350 63.5h1M322 64.5h1M332 64.5h1M337 64.5h1M340 64.5h2M344 64.5h1M347 64.5h3M351 64.5h1M329 65.5h1M334 65.5h1M337 65.5h2M340 65.5h1M342 65.5h1M346 65.5h1M348 65.5h1M329 66.5h1M333 66.5h8M343 66.5h1M348 66.5h1M333 67.5h1M336 67.5h1M340 67.5h2M343 67.5h1M345 67.5h1M349 67.5h1M332 68.5h3M337 68.5h2M344 68.5h1M351 68.5h1M333 69.5h1M337 69.5h1M339 69.5h3M344 69.5h1M347 69.5h1M330 70.5h1M333 70.5h1M339 70.5h3M343 70.5h1M348 70.5h1M331 71.5h1M335 71.5h4M340 71.5h2M343 71.5h1M346 71.5h1M349 71.5h1M330 72.5h1M338 72.5h1M340 72.5h1M343 72.5h3M327 73.5h1M333 73.5h1M336 73.5h1M338 73.5h3M342 73.5h1M344 73.5h1M352 73.5h1M327 74.5h1M338 74.5h1M340 74.5h2M343 74.5h1M349 74.5h1M353 74.5h1M329 75.5h1M333 75.5h3M338 75.5h3M342 75.5h1M344 75.5h1M332 76.5h9M342 76.5h1M344 76.5h1M350 76.5h1M329 77.5h1M331 77.5h2M334 77.5h2M337 77.5h2M340 77.5h3M344 77.5h2M331 78.5h15M329 79.5h14M344 79.5h3M329 80.5h19M330 81.5h17M330 82.5h17M329 83.5h2M332 83.5h15M349 83.5h1M329 84.5h20M328 85.5h1M330 85.5h1M332 85.5h14" stroke="#000" stroke-width="1" fill="none"/>
<path d="M479 43.5h1M452 47.5h1M429 48.5h1M431 48.5h1M453 49.5h1M478 49.5h1M486 49.5h1M427 50.5h1M433 50.5h1M437 50.5h2M442 50.5h2M453 50.5h1M461 50.5h1M464 50.5h1M477 50.5h2M496 50.5h1M427 51.5h3M431 51.5h7M439 51.5h4M444 51.5h3M448 51.5h1M450 51.5h1M452 51.5h1M454 51.5h1M456 51.5h1M458 51.5h3M464 51.5h1M467 51.5h2M470 51.5h2M474 51.5h2M478 51.5h1M485 51.5h1M427 52.5h16M444 52.5h14M459 52.5h3M463 52.5h1M465 52.5h14M481 52.5h3M492 52.5h1M427 53.5h25M453 53.5h35M489 53.5h4M500 53.5h1M427 54.5h23M451 54.5h39M427 55.5h63M492 55.5h1M494 55.5h1M427 56.5h63M491 56.5h1M427 57.5h58M486 57.5h2M489 57.5h2M427 58.5h63M492 58.5h1M427 59.5h63M491 59.5h1M427 60.5h56M484 60.5h3M489 60.5h2M492 60.5h1M496 60.5h1M427 61.5h61M489 61.5h1M427 62.5h57M485 62.5h3M494 62.5h1M427 63.5h56M485 63.5h3M427 64.5h51M479 64.5h5M486 64.5h1M427 65.5h54M490 65.5h1M493 65.5h1M499 65.5h1M427 66.5h18M446 66.5h28M475 66.5h2M478 66.5h1M480 66.5h1M489 66.5h1M500 66.5h1M427 67.5h45M474 67.5h2M480 67.5h2M427 68.5h3M431 68.5h29M461 68.5h1M464 68.5h3M470 68.5h1M473 68.5h2M476 68.5h2M484 68.5h1M427 69.5h12M440 69.5h13M455 69.5h5M461 69.5h1M463 69.5h1M465 69.5h1M468 69.5h1M470 69.5h4M481 69.5h1M427 70.5h3M432 70.5h1M435 70.5h3M439 70.5h3M444 70.5h6M453 70.5h1M459 70.5h1M461 70.5h3M466 70.5h5M476 70.5h1M479 70.5h1M484 70.5h1M427 71.5h1M429 71.5h1M431 71.5h1M433 71.5h5M439 71.5h1M441 71.5h1M445 71.5h2M448 71.5h1M451 71.5h10M464 71.5h2M468 71.5h1M474 71.5h1M476 71.5h1M481 71.5h1M483 71.5h1M428 72.5h14M443 72.5h1M445 72.5h6M453 72.5h1M455 72.5h1M458 72.5h1M460 72.5h1M464 72.5h1M466 72.5h1M469 72.5h1M472 72.5h1M475 72.5h2M480 72.5h1M427 73.5h21M452 73.5h2M458 73.5h1M460 73.5h3M464 73.5h1M468 73.5h1M470 73.5h1M473 73.5h1M481 73.5h1M427 74.5h22M450 74.5h3M454 74.5h2M457 74.5h4M462 74.5h4M467 74.5h1M469 74.5h3M475 74.5h2M478 74.5h1M427 75.5h29M457 75.5h7M466 75.5h1M469 75.5h2M472 75.5h3M477 75.5h1M427 76.5h24M452 76.5h1M454 76.5h6M461 76.5h2M464 76.5h5M470 76.5h2M473 76.5h1M476 76.5h3M487 76.5h1M427 77.5h28M459 77.5h1M461 77.5h7M476 77.5h1M481 77.5h1M427 78.5h27M459 78.5h2M462 78.5h2M465 78.5h1M467 78.5h1M471 78.5h2M474 78.5h1M476 78.5h1M483 78.5h1M427 79.5h33M463 79.5h1M465 79.5h3M472 79.5h2M475 79.5h1M483 79.5h1M427 80.5h24M452 80.5h2M456 80.5h3M461 80.5h2M464 80.5h1M468 80.5h1M470 80.5h1M427 81.5h20M449 81.5h3M453 81.5h2M459 81.5h3M463 81.5h2M466 81.5h2M469 81.5h1M471 81.5h1M473 81.5h1M476 81.5h2M483 81.5h1M427 82.5h19M447 82.5h1M449 82.5h3M453 82.5h1M455 82.5h1M460 82.5h5M471 82.5h2M476 82.5h2M427 83.5h17M445 83.5h4M451 83.5h2M454 83.5h1M456 83.5h1M462 83.5h1M477 83.5h1M427 84.5h18M446 84.5h1M454 84.5h2M460 84.5h1M476 84.5h1" stroke="#000" stroke-width="1" fill="none"/>
<path d="M74 43h1v1h-1zM80 50h1v1h-1zM78 79h1v1h-1zM80 78h1v1h-1zM84 49h1v1h-1zM103 84h1v1h-1zM126 56h1v1h-1zM100 32h1v1h-1zM113 30h1v1h-1zM198 81h1v1h-1zM208 80h1v1h-1zM219 77h1v1h-1zM222 80h1v1h-1zM224 42h1v1h-1zM230 46h1v1h-1zM232 50h1v1h-1zM236 44h1v1h-1zM234 54h1v1h-1zM234 60h1v1h-1zM255 32h1v1h-1zM260 46h1v1h-1zM330 24h1v1h-1zM313 76h1v1h-1zM316 78h1v1h-1zM316 80h1v1h-1zM357 41h1v1h-1zM358 44h1v1h-1zM497 57h1v1h-1zM499 56h1v1h-1zM501 54h1v1h-1zM507 54h1v1h-1z" fill="#000"/>
<text x="116.0" y="117.8" font-size="12" text-anchor="middle" class="sb" letter-spacing="1.45">CD11a</text>
<text x="233.0" y="117.8" font-size="12" text-anchor="middle" class="sb" letter-spacing="1.45">CD44</text>
<text x="356.5" y="117.8" font-size="12" text-anchor="middle" class="sb" letter-spacing="1.45">CD49d</text>
<text x="469.5" y="117.8" font-size="12" text-anchor="middle" class="sb" letter-spacing="1.45">CD62L</text>
<text x="0.8" y="12.4" font-size="16.5" text-anchor="start" class="sb" >A</text>
<path d="M21.1 4.7 L25.9 16.3 L16.4 16.3 Z" fill="#000"/>
<line x1="21.1" y1="16" x2="21.1" y2="37.6" stroke="#000" stroke-width="2.1" />
<line x1="21.1" y1="80.8" x2="21.1" y2="107.6" stroke="#000" stroke-width="2.1" />
<text transform="translate(24.4,74.4) rotate(-90)" font-size="12.9" letter-spacing="0.2" class="sb">CD28</text>
<rect x="65.80" y="141.30" width="8.30" height="122.30" fill="#fff" stroke="#000" stroke-width="1.1"/>
<rect x="76.95" y="141.30" width="8.30" height="122.30" fill="#999" stroke="#000" stroke-width="1.1"/>
<rect x="88.10" y="141.30" width="8.30" height="122.30" fill="#000" stroke="#000" stroke-width="1.1"/>
<rect x="111.50" y="141.30" width="8.30" height="122.30" fill="#fff" stroke="#000" stroke-width="1.1"/>
<rect x="122.65" y="141.30" width="8.30" height="122.30" fill="#999" stroke="#000" stroke-width="1.1"/>
<rect x="133.80" y="141.30" width="8.30" height="122.30" fill="#000" stroke="#000" stroke-width="1.1"/>
<line x1="161.35" y1="174.93" x2="161.35" y2="193.28" stroke="#000" stroke-width="1.1" />
<line x1="158.55" y1="174.93" x2="164.15" y2="174.93" stroke="#000" stroke-width="1.1" />
<rect x="157.20" y="193.28" width="8.30" height="70.32" fill="#fff" stroke="#000" stroke-width="1.1"/>
<line x1="172.50" y1="193.89" x2="172.50" y2="202.45" stroke="#000" stroke-width="1.1" />
<line x1="169.70" y1="193.89" x2="175.30" y2="193.89" stroke="#000" stroke-width="1.1" />
<rect x="168.35" y="202.45" width="8.30" height="61.15" fill="#999" stroke="#000" stroke-width="1.1"/>
<line x1="183.65" y1="173.10" x2="183.65" y2="180.44" stroke="#000" stroke-width="1.1" />
<line x1="180.85" y1="173.10" x2="186.45" y2="173.10" stroke="#000" stroke-width="1.1" />
<rect x="179.50" y="180.44" width="8.30" height="83.16" fill="#000" stroke="#000" stroke-width="1.1"/>
<line x1="207.05" y1="153.77" x2="207.05" y2="157.81" stroke="#000" stroke-width="1.1" />
<line x1="204.25" y1="153.77" x2="209.85" y2="153.77" stroke="#000" stroke-width="1.1" />
<rect x="202.90" y="157.81" width="8.30" height="105.79" fill="#fff" stroke="#000" stroke-width="1.1"/>
<line x1="218.20" y1="198.17" x2="218.20" y2="201.23" stroke="#000" stroke-width="1.1" />
<line x1="215.40" y1="198.17" x2="221.00" y2="198.17" stroke="#000" stroke-width="1.1" />
<rect x="214.05" y="201.23" width="8.30" height="62.37" fill="#999" stroke="#000" stroke-width="1.1"/>
<line x1="229.35" y1="176.77" x2="229.35" y2="191.44" stroke="#000" stroke-width="1.1" />
<line x1="226.55" y1="176.77" x2="232.15" y2="176.77" stroke="#000" stroke-width="1.1" />
<rect x="225.20" y="191.44" width="8.30" height="72.16" fill="#000" stroke="#000" stroke-width="1.1"/>
<line x1="57.8" y1="140.70000000000002" x2="57.8" y2="264.20000000000005" stroke="#000" stroke-width="1.45" />
<line x1="57.199999999999996" y1="263.6" x2="242.5" y2="263.6" stroke="#000" stroke-width="1.45" />
<line x1="54.3" y1="263.6" x2="57.8" y2="263.6" stroke="#000" stroke-width="1.2" />
<text x="53.3" y="267.40000000000003" font-size="11.5" text-anchor="end" class="sb" >0</text>
<line x1="54.3" y1="233.02500000000003" x2="57.8" y2="233.02500000000003" stroke="#000" stroke-width="1.2" />
<text x="53.3" y="236.82500000000005" font-size="11.5" text-anchor="end" class="sb" >25</text>
<line x1="54.3" y1="202.45000000000002" x2="57.8" y2="202.45000000000002" stroke="#000" stroke-width="1.2" />
<text x="53.3" y="206.25000000000003" font-size="11.5" text-anchor="end" class="sb" >50</text>
<line x1="54.3" y1="171.87500000000003" x2="57.8" y2="171.87500000000003" stroke="#000" stroke-width="1.2" />
<text x="53.3" y="175.67500000000004" font-size="11.5" text-anchor="end" class="sb" >75</text>
<line x1="54.3" y1="141.3" x2="57.8" y2="141.3" stroke="#000" stroke-width="1.2" />
<text x="53.3" y="145.10000000000002" font-size="11.5" text-anchor="end" class="sb" >100</text>
<line x1="81.10" y1="263.6" x2="81.10" y2="267.1" stroke="#000" stroke-width="1.2" />
<text x="81.10" y="277.90000000000003" font-size="11" text-anchor="middle" class="sb" letter-spacing="0.1">CD11a</text>
<line x1="126.80" y1="263.6" x2="126.80" y2="267.1" stroke="#000" stroke-width="1.2" />
<text x="126.80" y="277.90000000000003" font-size="11" text-anchor="middle" class="sb" letter-spacing="0.1">CD44</text>
<line x1="172.50" y1="263.6" x2="172.50" y2="267.1" stroke="#000" stroke-width="1.2" />
<text x="172.50" y="277.90000000000003" font-size="11" text-anchor="middle" class="sb" letter-spacing="0.1">CD49d</text>
<line x1="218.20" y1="263.6" x2="218.20" y2="267.1" stroke="#000" stroke-width="1.2" />
<text x="218.20" y="277.90000000000003" font-size="11" text-anchor="middle" class="sb" letter-spacing="0.1">CD62L</text>
<text x="1" y="142.5" font-size="16" text-anchor="start" class="sb" >B</text>
<path d="M208.5 149.5 V143.5 H219.5 V186" fill="none" stroke="#000" stroke-width="1.15"/>
<text x="214.3" y="144.5" font-size="11.3" text-anchor="middle" class="sr" fill="#2a2a2a">*</text>
<text transform="translate(11,202.7) rotate(-90)" text-anchor="middle" font-size="11.5" letter-spacing="0.25" class="sb">% CD4<tspan dy="-4" font-size="8">+</tspan><tspan dy="4">CD28</tspan><tspan dy="-4" font-size="8">+</tspan><tspan dy="4"> T cells</tspan></text>
<text transform="translate(26.2,204) rotate(-90)" text-anchor="middle" font-size="11.5" letter-spacing="0.25" class="sb">expressing marker</text>
<line x1="69.95" y1="305.89" x2="69.95" y2="307.36" stroke="#000" stroke-width="1.1" />
<line x1="67.15" y1="305.89" x2="72.75" y2="305.89" stroke="#000" stroke-width="1.1" />
<rect x="65.80" y="307.36" width="8.30" height="119.34" fill="#fff" stroke="#000" stroke-width="1.1"/>
<line x1="81.10" y1="304.54" x2="81.10" y2="305.52" stroke="#000" stroke-width="1.1" />
<line x1="78.30" y1="304.54" x2="83.90" y2="304.54" stroke="#000" stroke-width="1.1" />
<rect x="76.95" y="305.52" width="8.30" height="121.18" fill="#999" stroke="#000" stroke-width="1.1"/>
<line x1="92.25" y1="306.99" x2="92.25" y2="309.81" stroke="#000" stroke-width="1.1" />
<line x1="89.45" y1="306.99" x2="95.05" y2="306.99" stroke="#000" stroke-width="1.1" />
<rect x="88.10" y="309.81" width="8.30" height="116.89" fill="#000" stroke="#000" stroke-width="1.1"/>
<rect x="111.50" y="304.30" width="8.30" height="122.40" fill="#fff" stroke="#000" stroke-width="1.1"/>
<rect x="122.65" y="304.91" width="8.30" height="121.79" fill="#999" stroke="#000" stroke-width="1.1"/>
<rect x="133.80" y="304.30" width="8.30" height="122.40" fill="#000" stroke="#000" stroke-width="1.1"/>
<line x1="161.35" y1="308.46" x2="161.35" y2="309.20" stroke="#000" stroke-width="1.1" />
<line x1="158.55" y1="308.46" x2="164.15" y2="308.46" stroke="#000" stroke-width="1.1" />
<rect x="157.20" y="309.20" width="8.30" height="117.50" fill="#fff" stroke="#000" stroke-width="1.1"/>
<line x1="172.50" y1="308.22" x2="172.50" y2="312.26" stroke="#000" stroke-width="1.1" />
<line x1="169.70" y1="308.22" x2="175.30" y2="308.22" stroke="#000" stroke-width="1.1" />
<rect x="168.35" y="312.26" width="8.30" height="114.44" fill="#999" stroke="#000" stroke-width="1.1"/>
<line x1="183.65" y1="306.50" x2="183.65" y2="312.26" stroke="#000" stroke-width="1.1" />
<line x1="180.85" y1="306.50" x2="186.45" y2="306.50" stroke="#000" stroke-width="1.1" />
<rect x="179.50" y="312.26" width="8.30" height="114.44" fill="#000" stroke="#000" stroke-width="1.1"/>
<line x1="207.05" y1="346.53" x2="207.05" y2="357.54" stroke="#000" stroke-width="1.1" />
<line x1="204.25" y1="346.53" x2="209.85" y2="346.53" stroke="#000" stroke-width="1.1" />
<rect x="202.90" y="357.54" width="8.30" height="69.16" fill="#fff" stroke="#000" stroke-width="1.1"/>
<line x1="218.20" y1="402.59" x2="218.20" y2="408.10" stroke="#000" stroke-width="1.1" />
<line x1="215.40" y1="402.59" x2="221.00" y2="402.59" stroke="#000" stroke-width="1.1" />
<rect x="214.05" y="408.10" width="8.30" height="18.60" fill="#999" stroke="#000" stroke-width="1.1"/>
<line x1="229.35" y1="374.44" x2="229.35" y2="388.14" stroke="#000" stroke-width="1.1" />
<line x1="226.55" y1="374.44" x2="232.15" y2="374.44" stroke="#000" stroke-width="1.1" />
<rect x="225.20" y="388.14" width="8.30" height="38.56" fill="#000" stroke="#000" stroke-width="1.1"/>
<line x1="57.8" y1="303.7" x2="57.8" y2="427.3" stroke="#000" stroke-width="1.45" />
<line x1="57.199999999999996" y1="426.7" x2="242.5" y2="426.7" stroke="#000" stroke-width="1.45" />
<line x1="54.3" y1="426.7" x2="57.8" y2="426.7" stroke="#000" stroke-width="1.2" />
<text x="53.3" y="430.5" font-size="11.5" text-anchor="end" class="sb" >0</text>
<line x1="54.3" y1="396.1" x2="57.8" y2="396.1" stroke="#000" stroke-width="1.2" />
<text x="53.3" y="399.90000000000003" font-size="11.5" text-anchor="end" class="sb" >25</text>
<line x1="54.3" y1="365.5" x2="57.8" y2="365.5" stroke="#000" stroke-width="1.2" />
<text x="53.3" y="369.3" font-size="11.5" text-anchor="end" class="sb" >50</text>
<line x1="54.3" y1="334.9" x2="57.8" y2="334.9" stroke="#000" stroke-width="1.2" />
<text x="53.3" y="338.7" font-size="11.5" text-anchor="end" class="sb" >75</text>
<line x1="54.3" y1="304.3" x2="57.8" y2="304.3" stroke="#000" stroke-width="1.2" />
<text x="53.3" y="308.1" font-size="11.5" text-anchor="end" class="sb" >100</text>
<line x1="81.10" y1="426.7" x2="81.10" y2="430.2" stroke="#000" stroke-width="1.2" />
<text x="81.10" y="441.0" font-size="11" text-anchor="middle" class="sb" letter-spacing="0.1">CD11a</text>
<line x1="126.80" y1="426.7" x2="126.80" y2="430.2" stroke="#000" stroke-width="1.2" />
<text x="126.80" y="441.0" font-size="11" text-anchor="middle" class="sb" letter-spacing="0.1">CD44</text>
<line x1="172.50" y1="426.7" x2="172.50" y2="430.2" stroke="#000" stroke-width="1.2" />
<text x="172.50" y="441.0" font-size="11" text-anchor="middle" class="sb" letter-spacing="0.1">CD49d</text>
<line x1="218.20" y1="426.7" x2="218.20" y2="430.2" stroke="#000" stroke-width="1.2" />
<text x="218.20" y="441.0" font-size="11" text-anchor="middle" class="sb" letter-spacing="0.1">CD62L</text>
<text x="0.3" y="303" font-size="16" text-anchor="start" class="sb" >C</text>
<path d="M206.9 342.5 V337.2 H218.1 V391" fill="none" stroke="#000" stroke-width="1.15"/>
<text x="212.5" y="339.3" font-size="11.3" text-anchor="middle" class="sr" fill="#2a2a2a">*</text>
<text x="172.7" y="307.3" font-size="11.3" text-anchor="middle" class="sr" fill="#2a2a2a">**</text>
<text x="219.9" y="324.2" font-size="11.3" text-anchor="middle" class="sr" fill="#2a2a2a">**</text>
<text transform="translate(11,364.7) rotate(-90)" text-anchor="middle" font-size="11.5" letter-spacing="0.25" class="sb">% CD4<tspan dy="-4" font-size="8">+</tspan><tspan dy="4">CD28</tspan><tspan dy="-4" font-size="8">null</tspan><tspan dy="4"> T cells</tspan></text>
<text transform="translate(25.8,367) rotate(-90)" text-anchor="middle" font-size="11.5" letter-spacing="0.25" class="sb">expressing marker</text>
<line x1="344.65" y1="236.51" x2="344.65" y2="239.09" stroke="#000" stroke-width="1.1" />
<line x1="341.85" y1="236.51" x2="347.45" y2="236.51" stroke="#000" stroke-width="1.1" />
<rect x="340.50" y="239.09" width="8.30" height="24.51" fill="#fff" stroke="#000" stroke-width="1.1"/>
<line x1="355.80" y1="232.64" x2="355.80" y2="236.51" stroke="#000" stroke-width="1.1" />
<line x1="353.00" y1="232.64" x2="358.60" y2="232.64" stroke="#000" stroke-width="1.1" />
<rect x="351.65" y="236.51" width="8.30" height="27.09" fill="#999" stroke="#000" stroke-width="1.1"/>
<line x1="366.95" y1="235.65" x2="366.95" y2="238.66" stroke="#000" stroke-width="1.1" />
<line x1="364.15" y1="235.65" x2="369.75" y2="235.65" stroke="#000" stroke-width="1.1" />
<rect x="362.80" y="238.66" width="8.30" height="24.94" fill="#000" stroke="#000" stroke-width="1.1"/>
<line x1="390.35" y1="157.50" x2="390.35" y2="158.70" stroke="#000" stroke-width="1.1" />
<line x1="387.55" y1="157.50" x2="393.15" y2="157.50" stroke="#000" stroke-width="1.1" />
<rect x="386.20" y="158.70" width="8.30" height="104.90" fill="#fff" stroke="#000" stroke-width="1.1"/>
<rect x="384.70" y="169.5" width="11.3" height="7.0" fill="#fff"/>
<line x1="401.50" y1="163.50" x2="401.50" y2="164.50" stroke="#000" stroke-width="1.1" />
<line x1="398.70" y1="163.50" x2="404.30" y2="163.50" stroke="#000" stroke-width="1.1" />
<rect x="397.35" y="164.50" width="8.30" height="99.10" fill="#999" stroke="#000" stroke-width="1.1"/>
<rect x="395.85" y="169.5" width="11.3" height="7.0" fill="#fff"/>
<line x1="412.65" y1="156.70" x2="412.65" y2="159.50" stroke="#000" stroke-width="1.1" />
<line x1="409.85" y1="156.70" x2="415.45" y2="156.70" stroke="#000" stroke-width="1.1" />
<rect x="408.50" y="159.50" width="8.30" height="104.10" fill="#000" stroke="#000" stroke-width="1.1"/>
<rect x="407.00" y="169.5" width="11.3" height="7.0" fill="#fff"/>
<line x1="436.05" y1="252.64" x2="436.05" y2="253.28" stroke="#000" stroke-width="1.1" />
<line x1="433.25" y1="252.64" x2="438.85" y2="252.64" stroke="#000" stroke-width="1.1" />
<rect x="431.90" y="253.28" width="8.30" height="10.32" fill="#fff" stroke="#000" stroke-width="1.1"/>
<line x1="447.20" y1="253.28" x2="447.20" y2="253.93" stroke="#000" stroke-width="1.1" />
<line x1="444.40" y1="253.28" x2="450.00" y2="253.28" stroke="#000" stroke-width="1.1" />
<rect x="443.05" y="253.93" width="8.30" height="9.68" fill="#999" stroke="#000" stroke-width="1.1"/>
<line x1="458.35" y1="251.13" x2="458.35" y2="251.78" stroke="#000" stroke-width="1.1" />
<line x1="455.55" y1="251.13" x2="461.15" y2="251.13" stroke="#000" stroke-width="1.1" />
<rect x="454.20" y="251.78" width="8.30" height="11.83" fill="#000" stroke="#000" stroke-width="1.1"/>
<line x1="481.75" y1="144.50" x2="481.75" y2="152.50" stroke="#000" stroke-width="1.1" />
<line x1="478.95" y1="144.50" x2="484.55" y2="144.50" stroke="#000" stroke-width="1.1" />
<rect x="477.60" y="152.50" width="8.30" height="111.10" fill="#fff" stroke="#000" stroke-width="1.1"/>
<rect x="476.10" y="169.5" width="11.3" height="7.0" fill="#fff"/>
<line x1="492.90" y1="215.01" x2="492.90" y2="221.68" stroke="#000" stroke-width="1.1" />
<line x1="490.10" y1="215.01" x2="495.70" y2="215.01" stroke="#000" stroke-width="1.1" />
<rect x="488.75" y="221.68" width="8.30" height="41.93" fill="#999" stroke="#000" stroke-width="1.1"/>
<line x1="504.05" y1="212.86" x2="504.05" y2="219.74" stroke="#000" stroke-width="1.1" />
<line x1="501.25" y1="212.86" x2="506.85" y2="212.86" stroke="#000" stroke-width="1.1" />
<rect x="499.90" y="219.74" width="8.30" height="43.86" fill="#000" stroke="#000" stroke-width="1.1"/>
<line x1="333" y1="177.0" x2="333" y2="264.20000000000005" stroke="#000" stroke-width="1.45" />
<line x1="332.4" y1="263.6" x2="517.4" y2="263.6" stroke="#000" stroke-width="1.45" />
<line x1="329.5" y1="263.6" x2="333" y2="263.6" stroke="#000" stroke-width="1.2" />
<text x="328.5" y="267.40000000000003" font-size="11.5" text-anchor="end" class="sb" >0</text>
<line x1="329.5" y1="242.10000000000002" x2="333" y2="242.10000000000002" stroke="#000" stroke-width="1.2" />
<text x="328.5" y="245.90000000000003" font-size="11.5" text-anchor="end" class="sb" >50</text>
<line x1="329.5" y1="220.6" x2="333" y2="220.6" stroke="#000" stroke-width="1.2" />
<text x="328.5" y="224.4" font-size="11.5" text-anchor="end" class="sb" >100</text>
<line x1="329.5" y1="199.10000000000002" x2="333" y2="199.10000000000002" stroke="#000" stroke-width="1.2" />
<text x="328.5" y="202.90000000000003" font-size="11.5" text-anchor="end" class="sb" >150</text>
<line x1="329.5" y1="177.59999999999997" x2="333" y2="177.59999999999997" stroke="#000" stroke-width="1.2" />
<text x="328.5" y="181.39999999999998" font-size="11.5" text-anchor="end" class="sb" >200</text>
<line x1="329.5" y1="177.6" x2="335.6" y2="177.6" stroke="#000" stroke-width="1.2" />
<line x1="333" y1="140.6" x2="333" y2="169.0" stroke="#000" stroke-width="1.45" />
<line x1="331" y1="168.5" x2="335.6" y2="168.5" stroke="#000" stroke-width="1.2" />
<line x1="329.5" y1="164.6" x2="333" y2="164.6" stroke="#000" stroke-width="1.2" />
<text x="328.5" y="168.4" font-size="11.5" text-anchor="end" class="sb" >300</text>
<line x1="329.5" y1="152.89999999999998" x2="333" y2="152.89999999999998" stroke="#000" stroke-width="1.2" />
<text x="328.5" y="156.7" font-size="11.5" text-anchor="end" class="sb" >600</text>
<line x1="329.5" y1="141.2" x2="333" y2="141.2" stroke="#000" stroke-width="1.2" />
<text x="328.5" y="145.0" font-size="11.5" text-anchor="end" class="sb" >900</text>
<line x1="355.80" y1="263.6" x2="355.80" y2="267.1" stroke="#000" stroke-width="1.2" />
<text x="355.80" y="277.90000000000003" font-size="11" text-anchor="middle" class="sb" letter-spacing="0.1">CD11a</text>
<line x1="401.50" y1="263.6" x2="401.50" y2="267.1" stroke="#000" stroke-width="1.2" />
<text x="401.50" y="277.90000000000003" font-size="11" text-anchor="middle" class="sb" letter-spacing="0.1">CD44</text>
<line x1="447.20" y1="263.6" x2="447.20" y2="267.1" stroke="#000" stroke-width="1.2" />
<text x="447.20" y="277.90000000000003" font-size="11" text-anchor="middle" class="sb" letter-spacing="0.1">CD49d</text>
<line x1="492.90" y1="263.6" x2="492.90" y2="267.1" stroke="#000" stroke-width="1.2" />
<text x="492.90" y="277.90000000000003" font-size="11" text-anchor="middle" class="sb" letter-spacing="0.1">CD62L</text>
<text x="278" y="141.7" font-size="16" text-anchor="start" class="sb" >D</text>
<text transform="translate(300.3,201.7) rotate(-90)" text-anchor="middle" font-size="11.5" class="sb">MFI</text>
<line x1="344.65" y1="365.92" x2="344.65" y2="368.49" stroke="#000" stroke-width="1.1" />
<line x1="341.85" y1="365.92" x2="347.45" y2="365.92" stroke="#000" stroke-width="1.1" />
<rect x="340.50" y="368.49" width="8.30" height="58.21" fill="#fff" stroke="#000" stroke-width="1.1"/>
<line x1="355.80" y1="363.78" x2="355.80" y2="368.06" stroke="#000" stroke-width="1.1" />
<line x1="353.00" y1="363.78" x2="358.60" y2="363.78" stroke="#000" stroke-width="1.1" />
<rect x="351.65" y="368.06" width="8.30" height="58.64" fill="#999" stroke="#000" stroke-width="1.1"/>
<line x1="366.95" y1="369.35" x2="366.95" y2="376.20" stroke="#000" stroke-width="1.1" />
<line x1="364.15" y1="369.35" x2="369.75" y2="369.35" stroke="#000" stroke-width="1.1" />
<rect x="362.80" y="376.20" width="8.30" height="50.50" fill="#000" stroke="#000" stroke-width="1.1"/>
<line x1="390.35" y1="326.00" x2="390.35" y2="326.50" stroke="#000" stroke-width="1.1" />
<line x1="387.55" y1="326.00" x2="393.15" y2="326.00" stroke="#000" stroke-width="1.1" />
<rect x="386.20" y="326.50" width="8.30" height="100.20" fill="#fff" stroke="#000" stroke-width="1.1"/>
<rect x="384.70" y="332.7" width="11.3" height="7.300000000000011" fill="#fff"/>
<line x1="401.50" y1="328.50" x2="401.50" y2="329.50" stroke="#000" stroke-width="1.1" />
<line x1="398.70" y1="328.50" x2="404.30" y2="328.50" stroke="#000" stroke-width="1.1" />
<rect x="397.35" y="329.50" width="8.30" height="97.20" fill="#999" stroke="#000" stroke-width="1.1"/>
<rect x="395.85" y="332.7" width="11.3" height="7.300000000000011" fill="#fff"/>
<line x1="412.65" y1="323.70" x2="412.65" y2="325.50" stroke="#000" stroke-width="1.1" />
<line x1="409.85" y1="323.70" x2="415.45" y2="323.70" stroke="#000" stroke-width="1.1" />
<rect x="408.50" y="325.50" width="8.30" height="101.20" fill="#000" stroke="#000" stroke-width="1.1"/>
<rect x="407.00" y="332.7" width="11.3" height="7.300000000000011" fill="#fff"/>
<line x1="436.05" y1="414.50" x2="436.05" y2="416.43" stroke="#000" stroke-width="1.1" />
<line x1="433.25" y1="414.50" x2="438.85" y2="414.50" stroke="#000" stroke-width="1.1" />
<rect x="431.90" y="416.43" width="8.30" height="10.27" fill="#fff" stroke="#000" stroke-width="1.1"/>
<line x1="447.20" y1="414.72" x2="447.20" y2="415.57" stroke="#000" stroke-width="1.1" />
<line x1="444.40" y1="414.72" x2="450.00" y2="414.72" stroke="#000" stroke-width="1.1" />
<rect x="443.05" y="415.57" width="8.30" height="11.13" fill="#999" stroke="#000" stroke-width="1.1"/>
<line x1="458.35" y1="413.86" x2="458.35" y2="414.72" stroke="#000" stroke-width="1.1" />
<line x1="455.55" y1="413.86" x2="461.15" y2="413.86" stroke="#000" stroke-width="1.1" />
<rect x="454.20" y="414.72" width="8.30" height="11.98" fill="#000" stroke="#000" stroke-width="1.1"/>
<line x1="481.75" y1="345.17" x2="481.75" y2="364.21" stroke="#000" stroke-width="1.1" />
<line x1="478.95" y1="345.17" x2="484.55" y2="345.17" stroke="#000" stroke-width="1.1" />
<rect x="477.60" y="364.21" width="8.30" height="62.49" fill="#fff" stroke="#000" stroke-width="1.1"/>
<line x1="492.90" y1="402.52" x2="492.90" y2="403.16" stroke="#000" stroke-width="1.1" />
<line x1="490.10" y1="402.52" x2="495.70" y2="402.52" stroke="#000" stroke-width="1.1" />
<rect x="488.75" y="403.16" width="8.30" height="23.54" fill="#999" stroke="#000" stroke-width="1.1"/>
<line x1="504.05" y1="403.59" x2="504.05" y2="407.01" stroke="#000" stroke-width="1.1" />
<line x1="501.25" y1="403.59" x2="506.85" y2="403.59" stroke="#000" stroke-width="1.1" />
<rect x="499.90" y="407.01" width="8.30" height="19.69" fill="#000" stroke="#000" stroke-width="1.1"/>
<line x1="333" y1="340.5" x2="333" y2="427.3" stroke="#000" stroke-width="1.45" />
<line x1="332.4" y1="426.7" x2="517.4" y2="426.7" stroke="#000" stroke-width="1.45" />
<line x1="329.5" y1="426.7" x2="333" y2="426.7" stroke="#000" stroke-width="1.2" />
<text x="328.5" y="430.5" font-size="11.5" text-anchor="end" class="sb" >0</text>
<line x1="329.5" y1="405.3" x2="333" y2="405.3" stroke="#000" stroke-width="1.2" />
<text x="328.5" y="409.1" font-size="11.5" text-anchor="end" class="sb" >50</text>
<line x1="329.5" y1="383.9" x2="333" y2="383.9" stroke="#000" stroke-width="1.2" />
<text x="328.5" y="387.7" font-size="11.5" text-anchor="end" class="sb" >100</text>
<line x1="329.5" y1="362.5" x2="333" y2="362.5" stroke="#000" stroke-width="1.2" />
<text x="328.5" y="366.3" font-size="11.5" text-anchor="end" class="sb" >150</text>
<line x1="329.5" y1="341.1" x2="333" y2="341.1" stroke="#000" stroke-width="1.2" />
<text x="328.5" y="344.90000000000003" font-size="11.5" text-anchor="end" class="sb" >200</text>
<line x1="329.5" y1="341.1" x2="335.6" y2="341.1" stroke="#000" stroke-width="1.2" />
<line x1="333" y1="303.7" x2="333" y2="332.5" stroke="#000" stroke-width="1.45" />
<line x1="331" y1="332.0" x2="335.6" y2="332.0" stroke="#000" stroke-width="1.2" />
<line x1="329.5" y1="328.1" x2="333" y2="328.1" stroke="#000" stroke-width="1.2" />
<text x="328.5" y="331.90000000000003" font-size="11.5" text-anchor="end" class="sb" >300</text>
<line x1="329.5" y1="316.20000000000005" x2="333" y2="316.20000000000005" stroke="#000" stroke-width="1.2" />
<text x="328.5" y="320.00000000000006" font-size="11.5" text-anchor="end" class="sb" >600</text>
<line x1="329.5" y1="304.3" x2="333" y2="304.3" stroke="#000" stroke-width="1.2" />
<text x="328.5" y="308.1" font-size="11.5" text-anchor="end" class="sb" >900</text>
<line x1="355.80" y1="426.7" x2="355.80" y2="430.2" stroke="#000" stroke-width="1.2" />
<text x="355.80" y="441.0" font-size="11" text-anchor="middle" class="sb" letter-spacing="0.1">CD11a</text>
<line x1="401.50" y1="426.7" x2="401.50" y2="430.2" stroke="#000" stroke-width="1.2" />
<text x="401.50" y="441.0" font-size="11" text-anchor="middle" class="sb" letter-spacing="0.1">CD44</text>
<line x1="447.20" y1="426.7" x2="447.20" y2="430.2" stroke="#000" stroke-width="1.2" />
<text x="447.20" y="441.0" font-size="11" text-anchor="middle" class="sb" letter-spacing="0.1">CD49d</text>
<line x1="492.90" y1="426.7" x2="492.90" y2="430.2" stroke="#000" stroke-width="1.2" />
<text x="492.90" y="441.0" font-size="11" text-anchor="middle" class="sb" letter-spacing="0.1">CD62L</text>
<text x="280" y="303.5" font-size="16" text-anchor="start" class="sb" >E</text>
<text x="355.2" y="362.1" font-size="11.3" text-anchor="middle" class="sr" fill="#2a2a2a">**</text>
<text x="493.5" y="342.5" font-size="11.3" text-anchor="middle" class="sr" fill="#2a2a2a">**</text>
<text transform="translate(300.3,364) rotate(-90)" text-anchor="middle" font-size="11.5" class="sb">MFI</text>
<rect x="187.2" y="451.6" width="20" height="4.3" fill="#fff" stroke="#000" stroke-width="1.3"/>
<rect x="262.2" y="451.6" width="20" height="4.3" fill="#999" stroke="#000" stroke-width="1.3"/>
<rect x="344.5" y="451" width="23" height="5.5" fill="#000"/>
<text x="213.3" y="459" font-size="13.2" text-anchor="start" class="sr" >HC</text>
<text x="288.3" y="459" font-size="13.2" text-anchor="start" class="sr" >MS</text>
<text x="371.8" y="459" font-size="13.2" text-anchor="start" class="sr" letter-spacing="0.7">RA</text>
<text x="0.8" y="484.3" font-size="16" text-anchor="start" class="sb" >F</text>
<line x1="58" y1="491.4" x2="58" y2="603.1" stroke="#000" stroke-width="1.45" />
<line x1="54.5" y1="602.5" x2="58" y2="602.5" stroke="#000" stroke-width="1.2" />
<text x="53.5" y="606.3" font-size="11.5" text-anchor="end" class="sb" >0</text>
<line x1="54.5" y1="574.875" x2="58" y2="574.875" stroke="#000" stroke-width="1.2" />
<text x="53.5" y="578.675" font-size="11.5" text-anchor="end" class="sb" >5</text>
<line x1="54.5" y1="547.25" x2="58" y2="547.25" stroke="#000" stroke-width="1.2" />
<text x="53.5" y="551.05" font-size="11.5" text-anchor="end" class="sb" >10</text>
<line x1="54.5" y1="519.625" x2="58" y2="519.625" stroke="#000" stroke-width="1.2" />
<text x="53.5" y="523.425" font-size="11.5" text-anchor="end" class="sb" >15</text>
<line x1="54.5" y1="492.0" x2="58" y2="492.0" stroke="#000" stroke-width="1.2" />
<text x="53.5" y="495.8" font-size="11.5" text-anchor="end" class="sb" >20</text>
<line x1="70" y1="614.8" x2="242.3" y2="614.8" stroke="#000" stroke-width="1.45" />
<line x1="98.5" y1="614.8" x2="98.5" y2="618.8" stroke="#000" stroke-width="1.2" />
<text x="93.2" y="629" font-size="11" text-anchor="start" class="sb" letter-spacing="0.9">PB</text>
<line x1="155.9" y1="614.8" x2="155.9" y2="618.8" stroke="#000" stroke-width="1.2" />
<text x="151.6" y="629" font-size="11" text-anchor="start" class="sb" letter-spacing="0.9">SF</text>
<line x1="213" y1="614.8" x2="213" y2="618.8" stroke="#000" stroke-width="1.2" />
<text x="208.7" y="629" font-size="11" text-anchor="start" class="sb" letter-spacing="0.9">ST</text>
<polyline points="98.0,501.5 155.0,592.1 212.8,581.4" fill="none" stroke="#000" stroke-width="1.2" stroke-dasharray="1.5,1.4"/>
<rect x="96.3" y="499.8" width="3.4" height="3.4" fill="#fff" stroke="#000" stroke-width="1.2"/>
<rect x="153.3" y="590.4" width="3.4" height="3.4" fill="#fff" stroke="#000" stroke-width="1.2"/>
<rect x="211.10000000000002" y="579.6999999999999" width="3.4" height="3.4" fill="#fff" stroke="#000" stroke-width="1.2"/>
<polyline points="98,530.2 155.5,597" fill="none" stroke="#000" stroke-width="1.2" stroke-dasharray="3.6,1.5"/>
<rect x="96" y="528.4" width="4" height="3.5" fill="#000"/>
<line x1="98.5" y1="582.5" x2="213.3" y2="541.4" stroke="#000" stroke-width="1.1" />
<path d="M95.8 579.8L101.2 585.2M95.8 585.2L101.2 579.8" stroke="#000" stroke-width="1.1" fill="none"/>
<path d="M210.60000000000002 538.6999999999999L216.0 544.1M210.60000000000002 544.1L216.0 538.6999999999999" stroke="#000" stroke-width="1.1" fill="none"/>
<line x1="98" y1="585.7" x2="155.5" y2="597.6" stroke="#000" stroke-width="1.1" />
<circle cx="97.9" cy="585.7" r="1.6" fill="#fff" stroke="#000" stroke-width="1.1"/>
<line x1="98.5" y1="600.5" x2="156" y2="598.6" stroke="#000" stroke-width="0.75" />
<line x1="98.5" y1="601.5" x2="156" y2="599.5" stroke="#000" stroke-width="0.75" />
<line x1="98.5" y1="602.5" x2="156" y2="600.4" stroke="#000" stroke-width="0.75" />
<circle cx="98.6" cy="598.7" r="1.9" fill="#000"/>
<circle cx="98.6" cy="601.2" r="2.2" fill="#000"/>
<circle cx="156.2" cy="597.8" r="2.2" fill="#000"/>
<circle cx="156.2" cy="600" r="2.3" fill="#000"/>
<path d="M98.7 600.5L101.4 605.1H96.0Z" fill="#000"/>
<path d="M156.2 598.3L158.89999999999998 602.9H153.5Z" fill="#000"/>
<text transform="translate(16,546.5) rotate(-90)" text-anchor="middle" font-size="11.5" letter-spacing="0.17" class="sb">%CD28<tspan dy="-4" font-size="8">null</tspan><tspan dy="4"> cells within</tspan></text>
<text transform="translate(32.2,545.5) rotate(-90)" text-anchor="middle" font-size="11.5" letter-spacing="0.12" class="sb">CD4<tspan dy="-4" font-size="8">+</tspan><tspan dy="4"> T cell population</tspan></text>
</svg>
</body></html>
